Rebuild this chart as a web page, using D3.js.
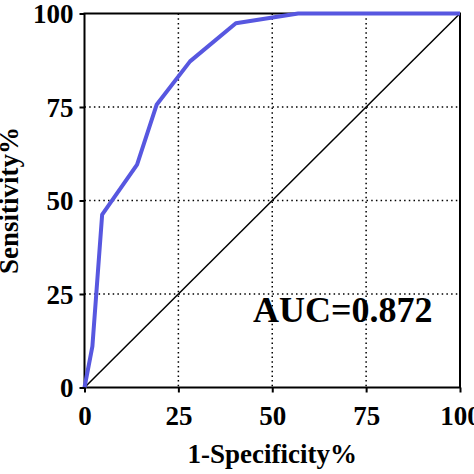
<!DOCTYPE html>
<html>
<head>
<meta charset="utf-8">
<script src="https://cdn.jsdelivr.net/npm/d3@7"></script>
<style>
	body { margin: 0; background: #fff; }
	svg { display: block; }
	svg text { font-family: "Liberation Serif", "Times New Roman", "DejaVu Serif", serif !important; font-weight: bold; fill: #000; }
</style>
</head>
<body>
<svg id="chart" width="474" height="474"></svg>
<script>
// ROC curve points (1-specificity %, sensitivity %)
const rocFpr = [0, 2.1, 4.7, 14, 19.2, 28.1, 40.3, 56.9, 100];
const rocTpr = [0, 11, 46.2, 59.6, 75.6, 87.2, 97.4, 100, 100];
const tickValues = [0, 25, 50, 75, 100];
const gridValues = [25, 50, 75];
const aucLabel = 'AUC=0.872';
const xTitle = '1-Specificity%';
const yTitle = 'Sensitivity%';

const plotLeft = 84.5, plotRight = 460, plotTop = 13.5, plotBottom = 387.5;

let svg = d3.select('#chart');

let xScale = d3.scaleLinear()
	.domain([0, 100])
	.range([plotLeft, plotRight]);
let yScale = d3.scaleLinear()
	.domain([0, 100])
	.range([plotBottom, plotTop]);

// dotted grid
svg.append('g')
	.selectAll('line')
	.data(gridValues)
	.join('line')
	.attr('x1', d => xScale(d)).attr('x2', d => xScale(d))
	.attr('y1', plotTop).attr('y2', plotBottom)
	.style('stroke', '#000')
	.style('stroke-width', 1.5)
	.style('stroke-dasharray', '1.5,3.2');
svg.append('g')
	.selectAll('line')
	.data(gridValues)
	.join('line')
	.attr('x1', plotLeft).attr('x2', plotRight)
	.attr('y1', d => yScale(d)).attr('y2', d => yScale(d))
	.style('stroke', '#000')
	.style('stroke-width', 1.5)
	.style('stroke-dasharray', '1.5,3.2');

// reference diagonal
svg.append('line')
	.attr('x1', xScale(0)).attr('y1', yScale(0))
	.attr('x2', xScale(100)).attr('y2', yScale(100))
	.style('stroke', '#000')
	.style('stroke-width', 1.5);

// frame
svg.append('rect')
	.attr('x', plotLeft).attr('y', plotTop)
	.attr('width', plotRight - plotLeft).attr('height', plotBottom - plotTop)
	.style('fill', 'none')
	.style('stroke', '#000')
	.style('stroke-width', 2);

// ROC curve
let line = d3.line()
	.x((d, i) => xScale(rocFpr[i]))
	.y(d => yScale(d));
svg.append('path')
	.datum(rocTpr)
	.attr('d', line)
	.style('fill', 'none')
	.style('stroke', '#5757e0')
	.style('stroke-width', 4)
	.style('stroke-linejoin', 'round');

// axes
let xAxis = svg.append('g')
	.attr('transform', 'translate(0,' + plotBottom + ')')
	.call(d3.axisBottom(xScale).tickValues(tickValues).tickSize(5).tickPadding(7));
let yAxis = svg.append('g')
	.attr('transform', 'translate(' + plotLeft + ',0)')
	.call(d3.axisLeft(yScale).tickValues(tickValues).tickSize(5).tickPadding(6));

[xAxis, yAxis].forEach(function(axis) {
	axis.attr('font-family', 'Liberation Serif').attr('font-size', 27);
	axis.select('.domain').remove();
	axis.selectAll('.tick line').style('stroke', '#000').style('stroke-width', 2);
	axis.selectAll('.tick text')
		.style('font-size', '27px');
});
xAxis.selectAll('.tick text').attr('dy', '0.95em');
yAxis.selectAll('.tick text').attr('dy', '0.34em');

// titles
svg.append('text')
	.attr('x', (plotLeft + plotRight) / 2)
	.attr('y', 463)
	.attr('text-anchor', 'middle')
	.style('font-size', '27px')
	.text(xTitle);
svg.append('text')
	.attr('transform', 'translate(18,' + (plotTop + plotBottom) / 2 + ') rotate(-90)')
	.attr('text-anchor', 'middle')
	.style('font-size', '27px')
	.text(yTitle);

// AUC annotation
svg.append('text')
	.attr('x', 253)
	.attr('y', 322)
	.style('font-size', '36px')
	.text(aucLabel);
</script>
</body>
</html>
